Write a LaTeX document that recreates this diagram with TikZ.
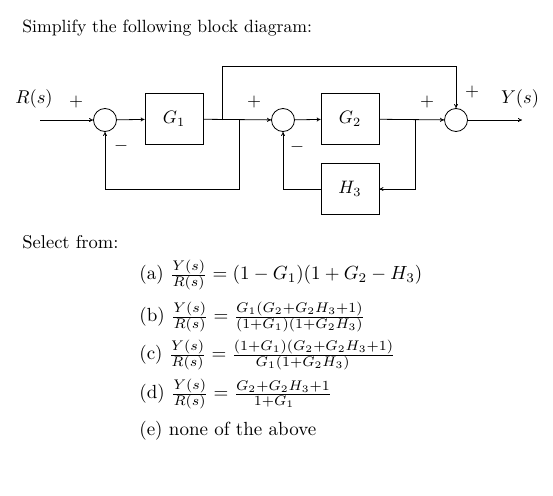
\documentclass[tikz,border=0pt]{standalone}
\usetikzlibrary{arrows.meta}
\newcommand\frsc[1]{\scalebox{1.05}{$\scriptstyle #1$}}
\begin{document}
\begin{tikzpicture}[x=1pt,y=-1pt,line width=0.8pt,
  blk/.style={draw,minimum width=58pt,minimum height=51pt,inner sep=0pt},
  sumc/.style={draw,circle,minimum size=23pt,inner sep=0pt},
  arr/.style={-{To[length=4pt,width=4pt]}},
  txt/.style={anchor=west,inner sep=0pt}]
\useasboundingbox (0,0) rectangle (553,495);
\node[txt] (title) at (22,28) {\scalebox{1.77}{Simplify the following block diagram:}};
% blocks
\node[sumc] (s1) at (105,120) {};
\node[blk] (g1) at (174,119) {\scalebox{1.8}{$G_1$}};
\node[sumc] (s2) at (283,120) {};
\node[blk] (g2) at (350,119) {\scalebox{1.8}{$G_2$}};
\node[blk] (h3) at (350,189) {\scalebox{1.8}{$H_3$}};
\node[sumc] (s3) at (456,120) {};
\coordinate (in) at (40,120);
\coordinate (out) at (522,120);
\coordinate (b1) at (222,120);
\coordinate (b2) at (239,120);
\coordinate (b3) at (415,120);
\coordinate (c1) at (222,66);
\coordinate (c2) at (239,189);
% connectors
\draw[arr] (in) -- (s1);
\draw[arr] (s1) -- (g1);
\draw[arr] (g1) -- (s2);
\draw[arr] (s2) -- (g2);
\draw[arr] (g2) -- (s3);
\draw[arr] (s3) -- (out);
\draw[arr] (b1) -- (c1) -| (s3.north);
\draw[arr] (b2) -- (c2) -| (s1.south);
\draw[arr] (b3) |- (h3.east);
\draw[arr] (h3.west) -| (s2.south);
% labels
\node (rl) at (34,99) {\scalebox{1.85}{$R(s)$}};
\node (yl) at (520,99) {\scalebox{1.85}{$Y(s)$}};
\node (p1) at (76,102) {\scalebox{1.8}{$+$}};
\node (m1) at (121,146) {\scalebox{1.8}{$-$}};
\node (p2) at (254,102) {\scalebox{1.8}{$+$}};
\node (m2) at (297,147) {\scalebox{1.8}{$-$}};
\node (p3) at (427,102) {\scalebox{1.8}{$+$}};
\node (p4) at (472,92) {\scalebox{1.8}{$+$}};
% options
\node[txt] (sel) at (22,242) {\scalebox{1.85}{Select from:}};
\node[txt] (oa) at (139,275) {\scalebox{1.9}{(a) $\frac{\frsc{Y(s)}}{\frsc{R(s)}}=(1-G_1)(1+G_2-H_3)$}};
\node[txt] (ob) at (139,317) {\scalebox{1.9}{(b) $\frac{\frsc{Y(s)}}{\frsc{R(s)}}=\frac{\frsc{G_1(G_2+G_2H_3+1)}}{\frsc{(1+G_1)(1+G_2H_3)}}$}};
\node[txt] (oc) at (139,355) {\scalebox{1.9}{(c) $\frac{\frsc{Y(s)}}{\frsc{R(s)}}=\frac{\frsc{(1+G_1)(G_2+G_2H_3+1)}}{\frsc{G_1(1+G_2H_3)}}$}};
\node[txt] (od) at (139,394) {\scalebox{1.9}{(d) $\frac{\frsc{Y(s)}}{\frsc{R(s)}}=\frac{\frsc{G_2+G_2H_3+1}}{\frsc{1+G_1}}$}};
\node[txt] (oe) at (139,431) {\scalebox{1.9}{(e) none of the above}};
\end{tikzpicture}
\end{document}
